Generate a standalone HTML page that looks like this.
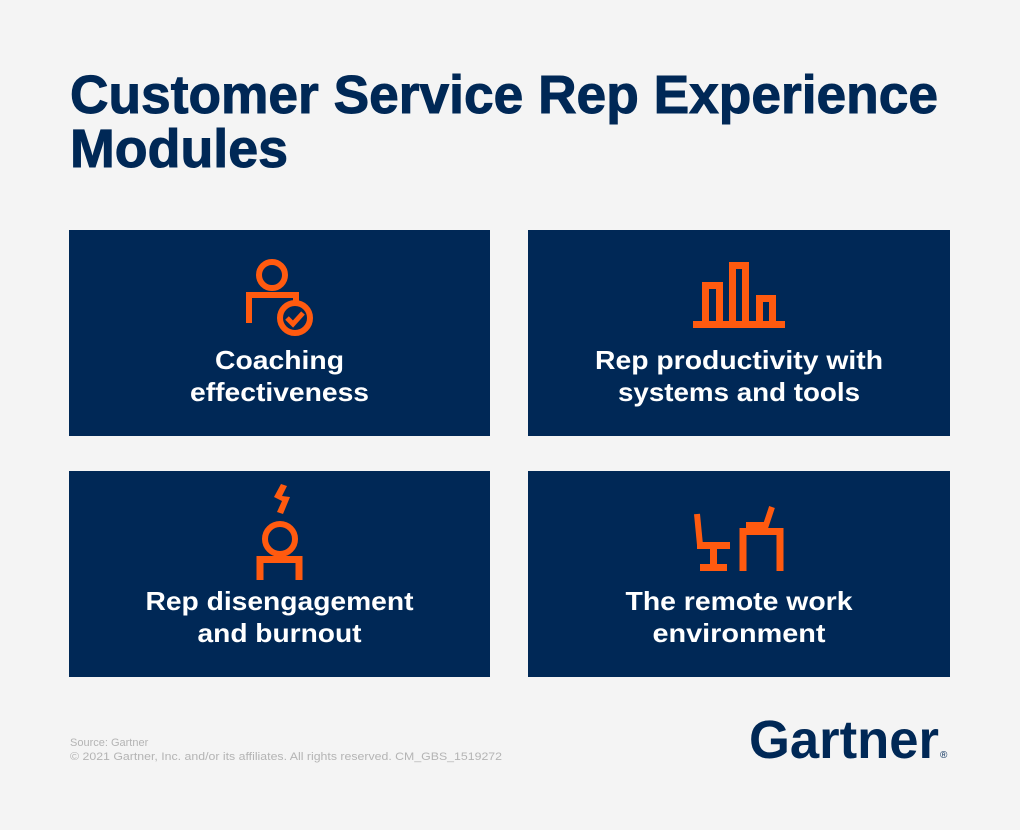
<!DOCTYPE html>
<html><head><meta charset="utf-8"><style>
html,body{margin:0;padding:0;background:#f4f4f4;}
svg{display:block;}
text{font-family:"Liberation Sans",Arial,sans-serif;}
</style></head><body>
<svg width="1020" height="830" viewBox="0 0 1020 830" xmlns="http://www.w3.org/2000/svg">
<rect width="1020" height="830" fill="#f4f4f4"/>
<g fill="#002856" stroke="#002856" stroke-width="1" font-weight="bold" font-size="54">
<text x="70" y="113" textLength="868" lengthAdjust="spacingAndGlyphs">Customer Service Rep Experience</text>
<text x="70" y="167" textLength="218" lengthAdjust="spacingAndGlyphs">Modules</text>
</g>
<rect x="69" y="230" width="421" height="206" fill="#002856"/>
<rect x="528" y="230" width="422" height="206" fill="#002856"/>
<rect x="69" y="471" width="421" height="206" fill="#002856"/>
<rect x="528" y="471" width="422" height="206" fill="#002856"/>
<g fill="#fff" font-weight="bold" font-size="26" text-anchor="middle">
<text x="279.5" y="369" textLength="129" lengthAdjust="spacingAndGlyphs">Coaching</text>
<text x="279.5" y="401" textLength="179" lengthAdjust="spacingAndGlyphs">effectiveness</text>
<text x="739" y="369" textLength="288" lengthAdjust="spacingAndGlyphs">Rep productivity with</text>
<text x="739" y="401" textLength="242" lengthAdjust="spacingAndGlyphs">systems and tools</text>
<text x="279.5" y="610" textLength="268" lengthAdjust="spacingAndGlyphs">Rep disengagement</text>
<text x="279.5" y="642" textLength="164" lengthAdjust="spacingAndGlyphs">and burnout</text>
<text x="739" y="610" textLength="227" lengthAdjust="spacingAndGlyphs">The remote work</text>
<text x="739" y="642" textLength="173" lengthAdjust="spacingAndGlyphs">environment</text>
</g>
<g fill="none" stroke="#ff5a0f" stroke-width="6">
<circle cx="272" cy="275" r="13"/>
<polyline points="249,323 249,295 296,295 296,302"/>
<circle cx="295" cy="318" r="15"/>
<polyline points="287,318 293,324 303,313" stroke-width="5"/>
<line x1="693" y1="324.5" x2="785" y2="324.5" stroke-width="7"/>
<polyline points="705.5,322 705.5,285.5 719.5,285.5 719.5,322" stroke-width="7"/>
<polyline points="732.5,322 732.5,265.5 745.5,265.5 745.5,322" stroke-width="7"/>
<polyline points="759.5,322 759.5,298.5 772.5,298.5 772.5,322" stroke-width="7"/>
<circle cx="280" cy="539" r="15"/>
<polyline points="260,580 260,559.5 299,559.5 299,580" stroke-width="7"/>
<line x1="697" y1="514" x2="700" y2="545"/>
<line x1="697" y1="545.5" x2="730" y2="545.5" stroke-width="7"/>
<line x1="713.5" y1="549" x2="713.5" y2="566" stroke-width="7"/>
<line x1="700" y1="567.5" x2="727" y2="567.5" stroke-width="7"/>
<polyline points="743,571 743,531.5 780,531.5 780,571" stroke-width="7"/>
<polyline points="746,525 766,525 772,507"/>
</g>
<polygon fill="#ff5a0f" points="274,497 281,484 287,486 282,496 290,497 283,514 277,512 282,501" />
<g fill="#b4b4b4" font-size="11">
<text x="70" y="746">Source: Gartner</text>
<text x="70" y="760" textLength="432" lengthAdjust="spacingAndGlyphs">© 2021 Gartner, Inc. and/or its affiliates. All rights reserved. CM_GBS_1519272</text>
</g>
<text x="749" y="758" fill="#002856" font-weight="bold" font-size="54" textLength="190" lengthAdjust="spacingAndGlyphs">Gartner</text>
<text x="940" y="758" fill="#002856" font-size="10">®</text>
</svg>
</body></html>
